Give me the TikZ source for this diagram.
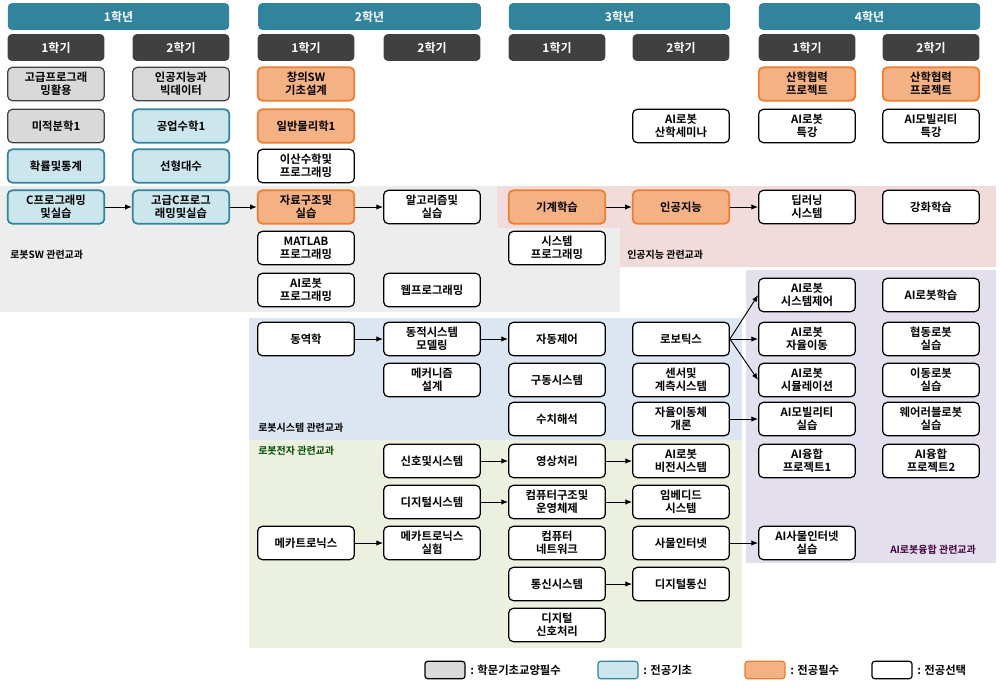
\documentclass[tikz,border=0pt]{standalone}
\usepackage{fontspec}
\setmainfont{Noto Sans CJK KR}[BoldFont={* Bold}]
\usetikzlibrary{arrows.meta}
\definecolor{teal}{HTML}{31849B}
\definecolor{dk}{HTML}{404040}
\definecolor{gfill}{HTML}{D9D9D9}
\definecolor{bfill}{HTML}{CCE6EE}
\definecolor{ofill}{HTML}{F4B183}
\definecolor{oline}{HTML}{ED7D31}
\definecolor{bggray}{HTML}{EDEDED}
\definecolor{bgpink}{HTML}{F2DCDB}
\definecolor{bgblue}{HTML}{DCE6F2}
\definecolor{bggreen}{HTML}{EBF1DE}
\definecolor{bgpurple}{HTML}{E4DFEC}
\tikzset{
 crs/.style={draw=black,line width=0.9pt,fill=white,rounded corners=3.5pt,minimum width=72.5pt,minimum height=25pt,align=center,font=\bfseries\fontsize{8.5}{10}\selectfont,inner sep=1pt},
 gry/.style={crs,fill=gfill,draw=dk},
 blu/.style={crs,fill=bfill,draw=teal,line width=1.3pt},
 org/.style={crs,fill=ofill,draw=oline,line width=1.3pt},
 yr/.style={fill=teal,rounded corners=3pt,minimum height=20pt,text=white,font=\bfseries\fontsize{9}{10}\selectfont},
 sem/.style={fill=dk,rounded corners=3pt,minimum width=72.5pt,minimum height=20pt,text=white,font=\bfseries\fontsize{9}{10}\selectfont},
 arr/.style={-{Latex[length=5pt,width=4pt]},line width=0.7pt},
 lbl/.style={anchor=west,font=\bfseries\fontsize{7.5}{9}\selectfont,inner sep=0pt},
 leg/.style={draw=black,line width=0.9pt,rounded corners=2pt,minimum width=30pt,minimum height=13pt}
}
\begin{document}
\begin{tikzpicture}[x=0.75pt,y=-0.75pt]
\useasboundingbox (0,0) rectangle (1000,687);
% backgrounds
\fill[bggray] (0,186) rectangle (620,312);
\fill[bgpink] (497,186) rectangle (996,228);
\fill[bgpink] (620,186) rectangle (996,267);
\fill[bgblue] (249,318) rectangle (742,440);
\fill[bggreen] (249,440) rectangle (742,648);
\fill[bgpurple] (746,270) rectangle (996,563);
\node[lbl] (l1) at (10,255) {로봇SW 관련교과};
\node[lbl] (l2) at (627,255) {인공지능 관련교과};
\node[lbl] (l3) at (258,428) {로봇시스템 관련교과};
\node[lbl,text=green!30!black] (l4) at (258,451) {로봇전자 관련교과};
\node[lbl,text=violet!50!black] (l5) at (890,550) {AI로봇융합 관련교과};
% headers
\node[yr,minimum width=166pt] (y1) at (118.5,16.5) {1학년};
\node[yr,minimum width=167pt] (y2) at (369.5,16.5) {2학년};
\node[yr,minimum width=166pt] (y3) at (619.5,16.5) {3학년};
\node[yr,minimum width=166pt] (y4) at (869.5,16.5) {4학년};
\foreach \x/\t [count=\i] in {56/1학기,181/2학기,306/1학기,432/2학기,557/1학기,681/2학기,807/1학기,931/2학기}
 \node[sem] (s\i) at (\x,47.5) {\t};
% col1
\node[gry] (a1) at (56,84) {고급프로그래\\밍활용};
\node[gry] (a2) at (56,126) {미적분학1};
\node[blu] (a3) at (56,166) {확률및통계};
\node[blu] (a4) at (56,207) {C프로그래밍\\및실습};
% col2
\node[gry] (b1) at (181,84) {인공지능과\\빅데이터};
\node[blu] (b2) at (181,126) {공업수학1};
\node[blu] (b3) at (181,166) {선형대수};
\node[blu] (b4) at (181,207) {고급C프로그\\래밍및실습};
% col3
\node[org] (c1) at (306,84) {창의SW\\기초설계};
\node[org] (c2) at (306,126) {일반물리학1};
\node[crs] (c3) at (306,166) {이산수학및\\프로그래밍};
\node[org] (c4) at (306,207) {자료구조및\\실습};
\node[crs] (c5) at (306,248) {MATLAB\\프로그래밍};
\node[crs] (c6) at (306,290) {AI로봇\\프로그래밍};
\node[crs] (c7) at (306,339) {동역학};
\node[crs] (c8) at (306,543) {메카트로닉스};
% col4
\node[crs] (d1) at (432,207) {알고리즘및\\실습};
\node[crs] (d2) at (432,290) {웹프로그래밍};
\node[crs] (d3) at (432,339) {동적시스템\\모델링};
\node[crs] (d4) at (432,380) {메커니즘\\설계};
\node[crs] (d5) at (432,461) {신호및시스템};
\node[crs] (d6) at (432,502) {디지털시스템};
\node[crs] (d7) at (432,543) {메카트로닉스\\실험};
% col5
\node[org] (e1) at (557,207) {기계학습};
\node[crs] (e2) at (557,248) {시스템\\프로그래밍};
\node[crs] (e3) at (557,339) {자동제어};
\node[crs] (e4) at (557,380) {구동시스템};
\node[crs] (e5) at (557,419) {수치해석};
\node[crs] (e6) at (557,461) {영상처리};
\node[crs] (e7) at (557,502) {컴퓨터구조및\\운영체제};
\node[crs] (e8) at (557,543) {컴퓨터\\네트워크};
\node[crs] (e9) at (557,584) {통신시스템};
\node[crs] (e10) at (557,625) {디지털\\신호처리};
% col6
\node[crs] (f0) at (681,126) {AI로봇\\산학세미나};
\node[org] (f1) at (681,207) {인공지능};
\node[crs] (f2) at (681,339) {로보틱스};
\node[crs] (f3) at (681,380) {센서및\\계측시스템};
\node[crs] (f4) at (681,419) {자율이동체\\개론};
\node[crs] (f5) at (681,461) {AI로봇\\비전시스템};
\node[crs] (f6) at (681,502) {임베디드\\시스템};
\node[crs] (f7) at (681,543) {사물인터넷};
\node[crs] (f8) at (681,584) {디지털통신};
% col7
\node[org] (g1) at (807,84) {산학협력\\프로젝트};
\node[crs] (g2) at (807,126) {AI로봇\\특강};
\node[crs] (g3) at (807,207) {딥러닝\\시스템};
\node[crs] (g4) at (807,295) {AI로봇\\시스템제어};
\node[crs] (g5) at (807,339) {AI로봇\\자율이동};
\node[crs] (g6) at (807,380) {AI로봇\\시뮬레이션};
\node[crs] (g7) at (807,419) {AI모빌리티\\실습};
\node[crs] (g8) at (807,461) {AI융합\\프로젝트1};
\node[crs] (g9) at (807,543) {AI사물인터넷\\실습};
% col8
\node[org] (h1) at (931,84) {산학협력\\프로젝트};
\node[crs] (h2) at (931,126) {AI모빌리티\\특강};
\node[crs] (h3) at (931,207) {강화학습};
\node[crs] (h4) at (931,295) {AI로봇학습};
\node[crs] (h5) at (931,339) {협동로봇\\실습};
\node[crs] (h6) at (931,380) {이동로봇\\실습};
\node[crs] (h7) at (931,419) {웨어러블로봇\\실습};
\node[crs] (h8) at (931,461) {AI융합\\프로젝트2};
% arrows
\draw[arr] (a4) -- (b4);
\draw[arr] (b4) -- (c4);
\draw[arr] (c4) -- (d1);
\draw[arr] (e1) -- (f1);
\draw[arr] (f1) -- (g3);
\draw[arr] (c7) -- (d3);
\draw[arr] (d3) -- (e3);
\draw[arr] (f2.east) -- (g4.west);
\draw[arr] (f2.east) -- (g5.west);
\draw[arr] (f2.east) -- (g6.west);
\draw[arr] (f4) -- (g7);
\draw[arr] (d5) -- (e6);
\draw[arr] (e6) -- (f5);
\draw[arr] (d6) -- (e7);
\draw[arr] (e7) -- (f6);
\draw[arr] (c8) -- (d7);
\draw[arr] (f7) -- (g9);
\draw[arr] (e9) -- (f8);
% legend
\node[leg,fill=gfill] (k1) at (445,670) {};
\node[anchor=west,font=\bfseries\fontsize{8.5}{10}\selectfont] (t1) at (k1.east) {: 학문기초교양필수};
\node[leg,fill=bfill,draw=teal] (k2) at (618,670) {};
\node[anchor=west,font=\bfseries\fontsize{8.5}{10}\selectfont] (t2) at (k2.east) {: 전공기초};
\node[leg,fill=ofill,draw=oline] (k3) at (765,670) {};
\node[anchor=west,font=\bfseries\fontsize{8.5}{10}\selectfont] (t3) at (k3.east) {: 전공필수};
\node[leg,fill=white] (k4) at (892,670) {};
\node[anchor=west,font=\bfseries\fontsize{8.5}{10}\selectfont] (t4) at (k4.east) {: 전공선택};
\end{tikzpicture}
\end{document}
